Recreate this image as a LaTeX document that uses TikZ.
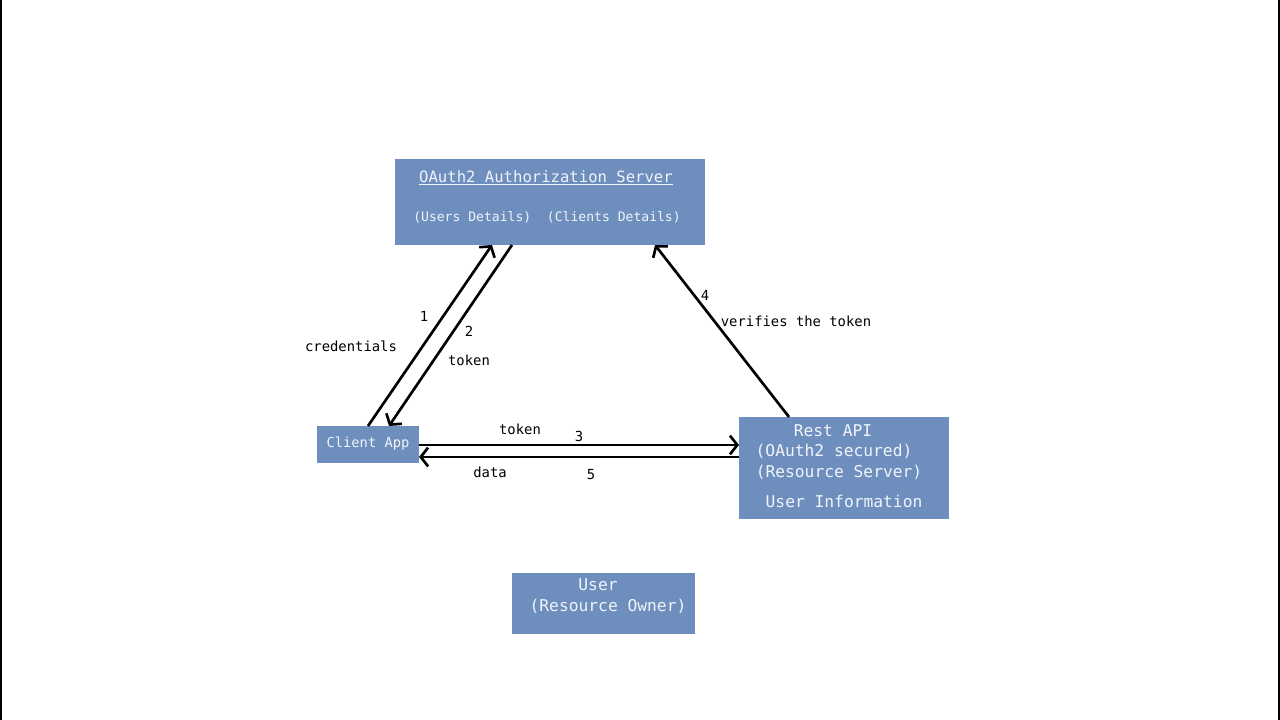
\documentclass[tikz,border=0pt]{standalone}
\usepackage{fontspec}
\setmonofont{DejaVu Sans Mono}
\usetikzlibrary{arrows.meta}
\definecolor{boxblue}{RGB}{110,142,190}
\definecolor{boxtext}{RGB}{240,244,250}
\tikzset{
  bluebox/.style={fill=boxblue, draw=none, inner sep=0pt},
  boxlabel/.style={text=boxtext, font=\ttfamily\fontsize{#1}{#1}\selectfont, inner sep=0pt, anchor=center},
  plainlabel/.style={text=black, font=\ttfamily\fontsize{10.4}{10.4}\selectfont, inner sep=0pt, anchor=center},
  flow/.style={line width=2pt, -{Straight Barb[length=5.5pt, width=14pt, line width=2pt]}},
  edge/.style={line width=1.5pt, black}
}
\begin{document}
\begin{tikzpicture}[x=0.75pt, y=-0.75pt]
\useasboundingbox (0,0) rectangle (1280,720);
\fill[white] (0,0) rectangle (1280,720);
\coordinate (el1) at (0.75,0); \coordinate (el2) at (0.75,720);
\coordinate (er1) at (1279.25,0); \coordinate (er2) at (1279.25,720);
\draw[edge] (el1) -- (el2);
\draw[edge] (er1) -- (er2);

% boxes
\node[bluebox, minimum width=310*0.75pt, minimum height=86*0.75pt] (auth) at (550,202) {};
\node[bluebox, minimum width=102*0.75pt, minimum height=37*0.75pt] (client) at (368,444.5) {};
\node[bluebox, minimum width=210*0.75pt, minimum height=102*0.75pt] (rest) at (844,468) {};
\node[bluebox, minimum width=183*0.75pt, minimum height=61*0.75pt] (user) at (603.5,603.5) {};

% box texts
\node[boxlabel=11.7] (authtitle) at (546,178) {\underline{OAuth2 Authorization Server}};
\node[boxlabel=9.8] (authdet) at (547,217) {(Users Details)\ \ (Clients Details)};
\node[boxlabel=10.3] (clienttxt) at (368,444) {Client App};
\node[boxlabel=12.2] (resta) at (833,431) {Rest API};
\node[boxlabel=12.2] (restb) at (834,451) {(OAuth2 secured)};
\node[boxlabel=12.2] (restc) at (839,472) {(Resource Server)};
\node[boxlabel=12.2] (restd) at (844,501) {User Information};
\node[boxlabel=12.2] (usera) at (598,585) {User};
\node[boxlabel=12.2] (userb) at (608,606) {(Resource Owner)};

% anchor coordinates for connectors
\coordinate (c1s) at (368,426);
\coordinate (c1e) at (492,245);
\coordinate (c2s) at (512,245);
\coordinate (c2e) at (389,426);
\coordinate (c3s) at (419,445);
\coordinate (c3e) at (739,445);
\coordinate (c5s) at (739,457);
\coordinate (c5e) at (419,457);
\coordinate (c4s) at (789,417);
\coordinate (c4e) at (655,245);

\draw[flow] (c1s) -- (c1e);
\draw[flow] (c2s) -- (c2e);
\draw[flow] (c3s) -- (c3e);
\draw[flow] (c5s) -- (c5e);
\draw[flow] (c4s) -- (c4e);

% labels
\node[plainlabel] (l1) at (424,316) {1};
\node[plainlabel] (l2) at (469,331) {2};
\node[plainlabel] (lcred) at (351,346) {credentials};
\node[plainlabel] (ltok1) at (469,360) {token};
\node[plainlabel] (ltok2) at (520,429) {token};
\node[plainlabel] (l3) at (579,436) {3};
\node[plainlabel] (ldata) at (490,472) {data};
\node[plainlabel] (l5) at (591,475) {5};
\node[plainlabel] (l4) at (705,295) {4};
\node[plainlabel] (lver) at (796,321) {verifies the token};
\end{tikzpicture}
\end{document}
